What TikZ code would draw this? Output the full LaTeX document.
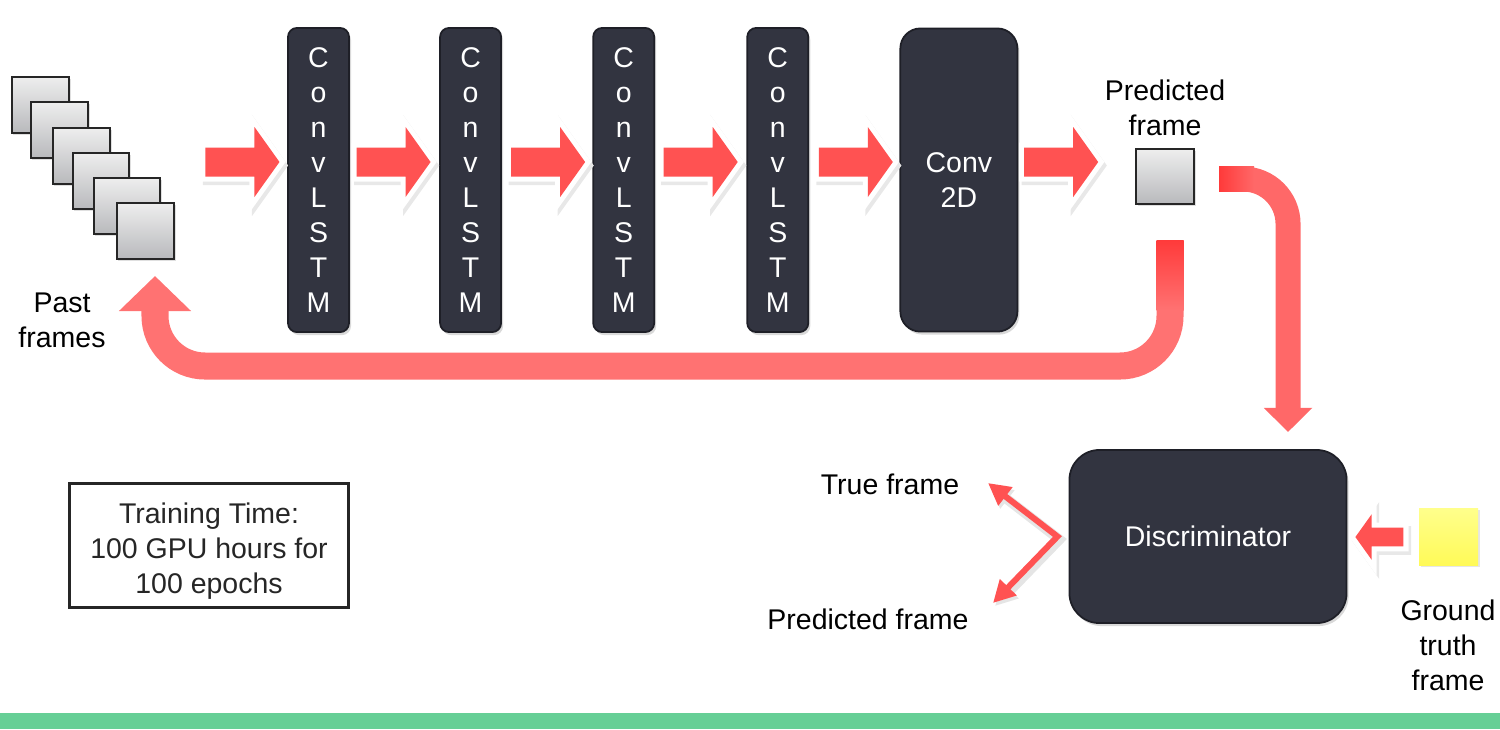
\documentclass[tikz,border=0pt]{standalone}
\usepackage{fontspec}
\setmainfont{Liberation Sans}
\usetikzlibrary{positioning, calc, shadows, arrows.meta}

\definecolor{blockdark}{RGB}{50,52,64}
\definecolor{blockedge}{RGB}{30,31,39}
\definecolor{arrowred}{RGB}{255,82,82}
\definecolor{tailred}{RGB}{255,58,58}
\definecolor{backpink}{RGB}{255,114,114}
\definecolor{towardred}{RGB}{255,104,104}
\definecolor{framehi}{RGB}{238,238,238}
\definecolor{framelo}{RGB}{184,185,188}
\definecolor{gthi}{RGB}{255,255,140}
\definecolor{gtlo}{RGB}{255,250,88}
\definecolor{barg}{RGB}{102,207,150}

\newcommand{\lblfont}{\fontsize{8.1}{9.96}\selectfont}

\tikzstyle{framebox} = [rectangle, draw=black!85, line width=0.55pt, top color=framehi, bottom color=framelo, minimum height=0.56cm, inner sep=0pt, drop shadow={opacity=0.25, shadow xshift=0.015cm, shadow yshift=-0.02cm}]
\tikzstyle{lstm} = [rectangle, rounded corners=0.09cm, fill=blockdark, draw=blockedge, line width=0.5pt, minimum width=0.61cm, minimum height=3.04cm, inner sep=0pt, outer sep=0pt, text=white, align=center, font=\lblfont, drop shadow={opacity=0.3, shadow xshift=0.02cm, shadow yshift=-0.03cm}]
\tikzstyle{lbl} = [align=center, font=\lblfont, inner sep=0pt]
\tikzstyle{fatarrow} = [fill=arrowred, line join=miter, preaction={fill=black!9, draw=black!9, line width=0.1cm, transform canvas={shift={(0.025cm,-0.035cm)}}}, preaction={draw=white, line width=0.1cm}]
\tikzstyle{backflow} = [draw=backpink, line width=0.27cm, rounded corners=0.5cm, -{Triangle[length=0.35cm, width=0.7cm]}]
\tikzstyle{toward} = [draw=towardred, line width=0.25cm, rounded corners=0.45cm, -{Triangle[length=0.24cm, width=0.47cm]}]
\tikzstyle{verdict} = [draw=arrowred, line width=0.06cm, line join=miter, {Triangle[length=0.22cm, width=0.22cm]}-{Triangle[length=0.22cm, width=0.22cm]}, preaction={draw=black!10, line width=0.1cm, transform canvas={shift={(0.02cm,-0.03cm)}}}]

\tikzset{redarrow/.pic={
  \path[fatarrow] (-37,-14.5) -- (12,-14.5) -- (12,-35) -- (37,0) -- (12,35) -- (12,14.5) -- (-37,14.5) -- cycle;
}}

\begin{document}
\begin{tikzpicture}[x=0.01cm, y=-0.01cm]
  \useasboundingbox (0,0) rectangle (1500,729);

  % past frames
  \foreach \i/\x/\y/\w in {1/11/76/0.57cm, 2/30/101/0.57cm, 3/52/127/0.57cm, 4/72/152/0.56cm, 5/93/177/0.66cm, 6/116/202/0.57cm}
    \node (f\i) [framebox, anchor=north west, minimum width=\w] at (\x,\y) {};
  \node (pastlbl) [lbl] at (62,320) {Past\\frames};

  % generator
  \node (cl1) [lstm] at (318.5,180) {C\\o\\n\\v\\L\\S\\T\\M};
  \node (cl2) [lstm, right=0.91cm of cl1] {C\\o\\n\\v\\L\\S\\T\\M};
  \node (cl3) [lstm, right=0.92cm of cl2] {C\\o\\n\\v\\L\\S\\T\\M};
  \node (cl4) [lstm, right=0.93cm of cl3] {C\\o\\n\\v\\L\\S\\T\\M};
  \node (conv) [lstm, right=0.92cm of cl4, minimum width=1.17cm, minimum height=3.03cm, rounded corners=0.2cm] {Conv\\2D};
  \node (pred) [framebox, minimum width=0.58cm, minimum height=0.55cm] at (1165,176.5) {};
  \node (predlbl) [lbl] at (1165,108) {Predicted\\frame};

  % discriminator
  \node (disc) [lstm, minimum width=2.77cm, minimum height=1.73cm, rounded corners=0.3cm] at (1208,536.5) {Discriminator};
  \node (gt) [rectangle, top color=gthi, bottom color=gtlo, minimum width=0.59cm, minimum height=0.57cm, drop shadow={opacity=0.2, shadow xshift=0.015cm, shadow yshift=-0.02cm}] at (1448.5,536.5) {};
  \node (gtlbl) [lbl] at (1448,645) {Ground\\truth\\frame};
  \node (truelbl) [lbl] at (890,484) {True frame};
  \node (fakelbl) [lbl] at (868,619) {Predicted frame};

  \node (train) [draw=black!85, line width=0.03cm, minimum width=2.78cm, minimum height=1.23cm] at (209,545.5) {};
  \node (trainlbl) [lbl, text=black!85] at (209,551) {Training Time:\\100 GPU hours for\\100 epochs};

  % block arrows
  \coordinate (arrowrow) at (0,162);
  \foreach \a/\b/\dx in {f6/cl1/11, cl1/cl2/-1, cl2/cl3/1, cl3/cl4/0, cl4/conv/1.5, conv/pred/-15} {
    \coordinate (m) at ($(\a.east)!0.5!(\b.west) + (\dx,0)$);
    \pic at (m |- arrowrow) {redarrow};
  }
  \pic[rotate=180, scale=0.65] at ($(disc.east)!0.5!(gt.west) + (-3,0.5)$) {redarrow};

  % feedback and discriminator input
  \coordinate (looptail) at ([xshift=0.05cm,yshift=-0.35cm]pred.south);
  \coordinate (loopbase) at (0,366);
  \coordinate (loophead) at (155,276);
  \draw [backflow] (looptail) -- (looptail |- loopbase) -- (loophead |- loopbase) -- (loophead);
  \shade [top color=tailred, bottom color=backpink] ([xshift=-0.135cm]looptail) rectangle ([xshift=0.135cm,yshift=-0.7cm]looptail);

  \coordinate (disctail) at ([xshift=0.24cm,yshift=-0.025cm]pred.east);
  \coordinate (dischead) at ([xshift=0.8cm,yshift=0.18cm]disc.north);
  \draw [toward] (disctail) -- (dischead |- disctail) -- (dischead);
  \shade [left color=tailred, right color=towardred] ([yshift=0.125cm]disctail) rectangle ([xshift=0.35cm,yshift=-0.125cm]disctail);

  \coordinate (vtx) at ([xshift=-0.12cm]disc.west);
  \coordinate (truetip) at (988,483);
  \coordinate (faketip) at (993,603);
  \draw [verdict] (truetip) -- (vtx) -- (faketip);

  \fill [barg] (0,713) rectangle (1500,729);
\end{tikzpicture}
\end{document}
